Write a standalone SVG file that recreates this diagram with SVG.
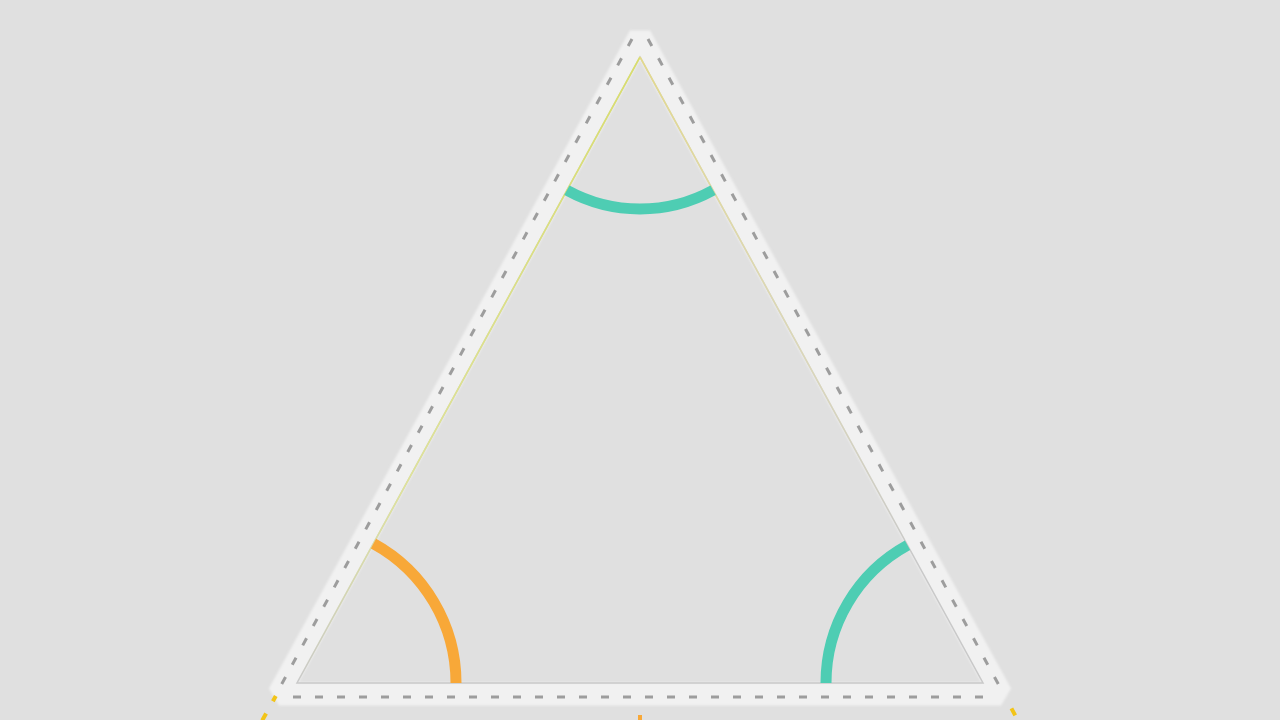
<svg xmlns="http://www.w3.org/2000/svg" width="1280" height="720" viewBox="0 0 1280 720">
  <defs>
    <linearGradient id="yl" x1="640" y1="57" x2="297" y2="683" gradientUnits="userSpaceOnUse">
      <stop offset="0" stop-color="#d9de6a"/>
      <stop offset="0.7" stop-color="#dfe39a"/>
      <stop offset="1" stop-color="#dfe39a" stop-opacity="0"/>
    </linearGradient>
    <linearGradient id="yr" x1="640" y1="57" x2="983" y2="683" gradientUnits="userSpaceOnUse">
      <stop offset="0" stop-color="#e3d98a"/>
      <stop offset="0.5" stop-color="#e6e0b0" stop-opacity="0.6"/>
      <stop offset="0.8" stop-color="#e6e0b0" stop-opacity="0"/>
    </linearGradient>
    <filter id="soft" x="-5%" y="-5%" width="110%" height="110%">
      <feGaussianBlur stdDeviation="1.2"/>
    </filter>
  </defs>
  <style>
    .band { fill: none; stroke: #f1f1f1; stroke-width: 23; stroke-linejoin: bevel; }
    .edge { fill: none; stroke: #c9c9c9; stroke-width: 1.5; }
    .dash { fill: none; stroke: #9d9d9d; stroke-width: 3; stroke-dasharray: 8 14; }
    .ydash { fill: none; stroke: #f2c418; stroke-width: 4; stroke-dasharray: 8 14; }
    .arc { fill: none; stroke-width: 11; }
    .teal { stroke: #4ecdb3; }
    .orange { stroke: #f8a838; }
  </style>
  <rect width="1280" height="720" fill="#e0e0e0"/>
  <g id="triangle">
    <path class="band" filter="url(#soft)" d="M640,36 L279,694 L1001,694 Z"/>
    <path class="edge" d="M640,57 L297,683 L983,683 Z"/>
    <line x1="640" y1="57" x2="297" y2="683" stroke="url(#yl)" stroke-width="1.6"/>
    <line x1="640" y1="57" x2="983" y2="683" stroke="url(#yr)" stroke-width="1.6"/>
  </g>
  <g id="dashed-outline">
    <line class="dash" x1="632" y1="39" x2="278.5" y2="690"/>
    <line class="dash" x1="648" y1="39" x2="1001.5" y2="690"/>
    <line class="dash" x1="293" y1="697" x2="990" y2="697"/>
    <line class="ydash" x1="275.8" y1="696" x2="258" y2="728" stroke-dashoffset="2"/>
    <line class="ydash" x1="1004.8" y1="696" x2="1022" y2="728" stroke-dashoffset="8"/>
  </g>
  <g id="angle-top">
    <path class="arc teal" stroke-width="12" d="M566.9,190.3 A152,152 0 0,0 713.1,190.3"/>
  </g>
  <g id="angle-left">
    <path class="arc orange" stroke-width="12" d="M373.5,543.6 A159,159 0 0,1 456,683"/>
  </g>
  <g id="angle-right">
    <path class="arc teal" d="M907.5,545.3 A157,157 0 0,0 826,683"/>
  </g>
  <g id="bottom-mark">
    <line x1="640" y1="715" x2="640" y2="722" stroke="#f8a838" stroke-width="4"/>
  </g>
</svg>
